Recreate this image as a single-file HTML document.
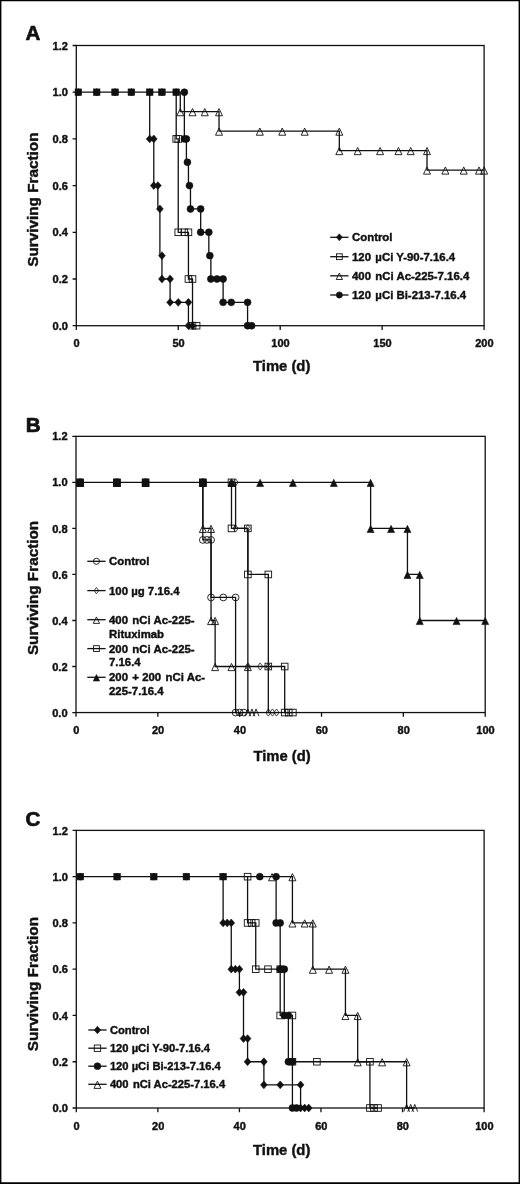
<!DOCTYPE html>
<html lang="en"><head><meta charset="utf-8"><title>Survival curves</title>
<style>
html,body{margin:0;padding:0;background:#fff;}
body{width:520px;height:1184px;overflow:hidden;font-family:"Liberation Sans", Arial, Helvetica, sans-serif;}
svg{display:block;}
</style></head><body>
<svg width="520" height="1184" viewBox="0 0 520 1184" font-family='"Liberation Sans", Arial, Helvetica, sans-serif' fill="#111">
<style>text{stroke:#111;stroke-width:.42px;stroke-linejoin:round}</style>
<rect x="0" y="0" width="520" height="1184" fill="#fff"/>
<path d="M0 0H520V1184H0Z M1.4 1.3V1182.2H518.6V1.3Z" fill="#000" fill-rule="evenodd"/>
<g id="panelA">
<text x="25.5" y="40.4" font-size="20.6" style="stroke-width:.7px" font-weight="bold">A</text>
<rect x="76.3" y="45.5" width="407.8" height="280.2" fill="none" stroke="#111" stroke-width="1.3"/>
<path d="M72.6 325.7H76.3M72.6 279H76.3M72.6 232.3H76.3M72.6 185.6H76.3M72.6 138.9H76.3M72.6 92.2H76.3M72.6 45.5H76.3M76.3 325.7V330M178.25 325.7V330M280.2 325.7V330M382.15 325.7V330M484.1 325.7V330" fill="none" stroke="#111" stroke-width="1.3"/>
<g font-size="11.1" font-weight="bold" text-anchor="end">
<text x="67.9" y="329.8">0.0</text>
<text x="67.9" y="283.1">0.2</text>
<text x="67.9" y="236.4">0.4</text>
<text x="67.9" y="189.7">0.6</text>
<text x="67.9" y="143">0.8</text>
<text x="67.9" y="96.3">1.0</text>
<text x="67.9" y="49.6">1.2</text>
</g>
<g font-size="11" font-weight="bold" text-anchor="middle">
<text x="76.6" y="347.2">0</text>
<text x="178.55" y="347.2">50</text>
<text x="280.5" y="347.2">100</text>
<text x="382.45" y="347.2">150</text>
<text x="484.4" y="347.2">200</text>
</g>
<text x="281.7" y="371" font-size="14.8" font-weight="bold" text-anchor="middle">Time (d)</text>
<text transform="translate(37.8 199.6) rotate(-90)" font-size="15.3" font-weight="bold" text-anchor="middle">Surviving Fraction</text>
<path d="M180.29 92.2H180.29V111.66H219.03V131.12H339.33V150.57H427.01V170.03H484.1V170.03" fill="none" stroke="#111" stroke-width="1.3"/>
<g><polygon points="180.29,108.56 183.79,115.76 176.79,115.76" fill="none" stroke="#111" stroke-width="0.9"/><polygon points="192.52,108.56 196.02,115.76 189.02,115.76" fill="none" stroke="#111" stroke-width="0.9"/><polygon points="204.76,108.56 208.26,115.76 201.26,115.76" fill="none" stroke="#111" stroke-width="0.9"/><polygon points="219.03,108.56 222.53,115.76 215.53,115.76" fill="none" stroke="#111" stroke-width="0.9"/><polygon points="219.03,128.02 222.53,135.22 215.53,135.22" fill="none" stroke="#111" stroke-width="0.9"/><polygon points="259.81,128.02 263.31,135.22 256.31,135.22" fill="none" stroke="#111" stroke-width="0.9"/><polygon points="282.24,128.02 285.74,135.22 278.74,135.22" fill="none" stroke="#111" stroke-width="0.9"/><polygon points="304.67,128.02 308.17,135.22 301.17,135.22" fill="none" stroke="#111" stroke-width="0.9"/><polygon points="339.33,128.02 342.83,135.22 335.83,135.22" fill="none" stroke="#111" stroke-width="0.9"/><polygon points="339.33,147.47 342.83,154.67 335.83,154.67" fill="none" stroke="#111" stroke-width="0.9"/><polygon points="357.68,147.47 361.18,154.67 354.18,154.67" fill="none" stroke="#111" stroke-width="0.9"/><polygon points="380.11,147.47 383.61,154.67 376.61,154.67" fill="none" stroke="#111" stroke-width="0.9"/><polygon points="398.46,147.47 401.96,154.67 394.96,154.67" fill="none" stroke="#111" stroke-width="0.9"/><polygon points="410.7,147.47 414.2,154.67 407.2,154.67" fill="none" stroke="#111" stroke-width="0.9"/><polygon points="427.01,147.47 430.51,154.67 423.51,154.67" fill="none" stroke="#111" stroke-width="0.9"/><polygon points="427.01,166.93 430.51,174.13 423.51,174.13" fill="none" stroke="#111" stroke-width="0.9"/><polygon points="445.36,166.93 448.86,174.13 441.86,174.13" fill="none" stroke="#111" stroke-width="0.9"/><polygon points="463.71,166.93 467.21,174.13 460.21,174.13" fill="none" stroke="#111" stroke-width="0.9"/><polygon points="479,166.93 482.5,174.13 475.5,174.13" fill="none" stroke="#111" stroke-width="0.9"/><polygon points="484.1,166.93 487.6,174.13 480.6,174.13" fill="none" stroke="#111" stroke-width="0.9"/></g>
<path d="M176.21 92.2H176.21V138.9H178.25V232.3H188.44V279H192.52V325.7H196.6V325.7" fill="none" stroke="#111" stroke-width="1.3"/>
<g><rect x="172.91" y="135.6" width="6.6" height="6.6" fill="none" stroke="#111" stroke-width="0.9"/><rect x="174.95" y="135.6" width="6.6" height="6.6" fill="none" stroke="#111" stroke-width="0.9"/><rect x="174.95" y="229" width="6.6" height="6.6" fill="none" stroke="#111" stroke-width="0.9"/><rect x="181.07" y="229" width="6.6" height="6.6" fill="none" stroke="#111" stroke-width="0.9"/><rect x="185.14" y="229" width="6.6" height="6.6" fill="none" stroke="#111" stroke-width="0.9"/><rect x="185.14" y="275.7" width="6.6" height="6.6" fill="none" stroke="#111" stroke-width="0.9"/><rect x="189.22" y="275.7" width="6.6" height="6.6" fill="none" stroke="#111" stroke-width="0.9"/><rect x="189.22" y="322.4" width="6.6" height="6.6" fill="none" stroke="#111" stroke-width="0.9"/><rect x="193.3" y="322.4" width="6.6" height="6.6" fill="none" stroke="#111" stroke-width="0.9"/></g>
<path d="M149.7 92.2H149.7V138.9H153.78V185.6H157.86V208.95H159.9V255.65H161.94V279H170.09V302.35H188.44V325.7H192.52V325.7" fill="none" stroke="#111" stroke-width="1.3"/>
<g><polygon points="149.7,135 153.1,138.9 149.7,142.8 146.3,138.9" fill="#111" stroke="#111" stroke-width="0.6"/><polygon points="153.78,135 157.18,138.9 153.78,142.8 150.38,138.9" fill="#111" stroke="#111" stroke-width="0.6"/><polygon points="153.78,181.7 157.18,185.6 153.78,189.5 150.38,185.6" fill="#111" stroke="#111" stroke-width="0.6"/><polygon points="157.86,181.7 161.26,185.6 157.86,189.5 154.46,185.6" fill="#111" stroke="#111" stroke-width="0.6"/><polygon points="159.9,205.05 163.3,208.95 159.9,212.85 156.5,208.95" fill="#111" stroke="#111" stroke-width="0.6"/><polygon points="161.94,251.75 165.34,255.65 161.94,259.55 158.54,255.65" fill="#111" stroke="#111" stroke-width="0.6"/><polygon points="161.94,275.1 165.34,279 161.94,282.9 158.54,279" fill="#111" stroke="#111" stroke-width="0.6"/><polygon points="170.09,275.1 173.49,279 170.09,282.9 166.69,279" fill="#111" stroke="#111" stroke-width="0.6"/><polygon points="170.09,298.45 173.49,302.35 170.09,306.25 166.69,302.35" fill="#111" stroke="#111" stroke-width="0.6"/><polygon points="178.25,298.45 181.65,302.35 178.25,306.25 174.85,302.35" fill="#111" stroke="#111" stroke-width="0.6"/><polygon points="188.44,298.45 191.84,302.35 188.44,306.25 185.04,302.35" fill="#111" stroke="#111" stroke-width="0.6"/><polygon points="188.44,321.8 191.84,325.7 188.44,329.6 185.04,325.7" fill="#111" stroke="#111" stroke-width="0.6"/><polygon points="192.52,321.8 195.92,325.7 192.52,329.6 189.12,325.7" fill="#111" stroke="#111" stroke-width="0.6"/></g>
<path d="M78.34 92.2H184.37V138.9H186.41V162.25H188.44V185.6H190.48V208.95H200.68V232.3H208.83V255.65H210.87V279H223.11V302.35H247.58V325.7H251.65V325.7" fill="none" stroke="#111" stroke-width="1.3"/>
<g><circle cx="184.37" cy="92.2" r="3.45" fill="#111" stroke="#111" stroke-width="0.6"/><circle cx="184.37" cy="138.9" r="3.45" fill="#111" stroke="#111" stroke-width="0.6"/><circle cx="186.41" cy="138.9" r="3.45" fill="#111" stroke="#111" stroke-width="0.6"/><circle cx="187.43" cy="162.25" r="3.45" fill="#111" stroke="#111" stroke-width="0.6"/><circle cx="189.46" cy="185.6" r="3.45" fill="#111" stroke="#111" stroke-width="0.6"/><circle cx="190.48" cy="208.95" r="3.45" fill="#111" stroke="#111" stroke-width="0.6"/><circle cx="200.68" cy="208.95" r="3.45" fill="#111" stroke="#111" stroke-width="0.6"/><circle cx="200.68" cy="232.3" r="3.45" fill="#111" stroke="#111" stroke-width="0.6"/><circle cx="208.83" cy="232.3" r="3.45" fill="#111" stroke="#111" stroke-width="0.6"/><circle cx="209.85" cy="255.65" r="3.45" fill="#111" stroke="#111" stroke-width="0.6"/><circle cx="210.87" cy="279" r="3.45" fill="#111" stroke="#111" stroke-width="0.6"/><circle cx="216.99" cy="279" r="3.45" fill="#111" stroke="#111" stroke-width="0.6"/><circle cx="223.11" cy="279" r="3.45" fill="#111" stroke="#111" stroke-width="0.6"/><circle cx="223.11" cy="302.35" r="3.45" fill="#111" stroke="#111" stroke-width="0.6"/><circle cx="231.26" cy="302.35" r="3.45" fill="#111" stroke="#111" stroke-width="0.6"/><circle cx="247.58" cy="302.35" r="3.45" fill="#111" stroke="#111" stroke-width="0.6"/><circle cx="247.58" cy="325.7" r="3.45" fill="#111" stroke="#111" stroke-width="0.6"/><circle cx="251.65" cy="325.7" r="3.45" fill="#111" stroke="#111" stroke-width="0.6"/></g>
<g><rect x="75.06" y="88.92" width="6.55" height="6.55" fill="#111" stroke="#111" stroke-width="0.6"/><polygon points="78.34,88.49 81.57,92.2 78.34,95.9 75.11,92.2" fill="#111" stroke="#111" stroke-width="0.6"/><rect x="93.41" y="88.92" width="6.55" height="6.55" fill="#111" stroke="#111" stroke-width="0.6"/><polygon points="96.69,88.49 99.92,92.2 96.69,95.9 93.46,92.2" fill="#111" stroke="#111" stroke-width="0.6"/><rect x="111.76" y="88.92" width="6.55" height="6.55" fill="#111" stroke="#111" stroke-width="0.6"/><polygon points="115.04,88.49 118.27,92.2 115.04,95.9 111.81,92.2" fill="#111" stroke="#111" stroke-width="0.6"/><rect x="128.08" y="88.92" width="6.55" height="6.55" fill="#111" stroke="#111" stroke-width="0.6"/><polygon points="131.35,88.49 134.58,92.2 131.35,95.9 128.12,92.2" fill="#111" stroke="#111" stroke-width="0.6"/><rect x="146.43" y="88.92" width="6.55" height="6.55" fill="#111" stroke="#111" stroke-width="0.6"/><polygon points="149.7,88.49 152.93,92.2 149.7,95.9 146.47,92.2" fill="#111" stroke="#111" stroke-width="0.6"/><rect x="158.66" y="88.92" width="6.55" height="6.55" fill="#111" stroke="#111" stroke-width="0.6"/><polygon points="161.94,88.49 165.17,92.2 161.94,95.9 158.71,92.2" fill="#111" stroke="#111" stroke-width="0.6"/><rect x="172.93" y="88.92" width="6.55" height="6.55" fill="#111" stroke="#111" stroke-width="0.6"/><polygon points="176.21,88.49 179.44,92.2 176.21,95.9 172.98,92.2" fill="#111" stroke="#111" stroke-width="0.6"/></g>
<path d="M330.2 237.3H348.5" stroke="#111" stroke-width="1.3"/>
<polygon points="339.35,233.87 342.34,237.3 339.35,240.73 336.36,237.3" fill="#111" stroke="#111" stroke-width="0.6"/>
<text x="352" y="241.3" font-size="11.4" font-weight="bold">Control</text>
<path d="M330.2 256.7H348.5" stroke="#111" stroke-width="1.3"/>
<rect x="336.45" y="253.8" width="5.81" height="5.81" fill="none" stroke="#111" stroke-width="0.9"/>
<text x="352" y="260.7" font-size="11.4" font-weight="bold">120 <tspan dx="1.2">µCi Y-90-7.16.4</tspan></text>
<path d="M330.2 275.8H348.5" stroke="#111" stroke-width="1.3"/>
<polygon points="339.35,273.01 342.5,279.49 336.2,279.49" fill="none" stroke="#111" stroke-width="0.9"/>
<text x="352" y="279.8" font-size="11.4" font-weight="bold">400 <tspan dx="1.2">nCi Ac-225-7.16.4</tspan></text>
<path d="M330.2 295H348.5" stroke="#111" stroke-width="1.3"/>
<circle cx="339.35" cy="295" r="3.11" fill="#111" stroke="#111" stroke-width="0.6"/>
<text x="352" y="299" font-size="11.4" font-weight="bold">120 <tspan dx="1.2">µCi Bi-213-7.16.4</tspan></text>
</g>
<g id="panelB">
<text x="25.8" y="432.3" font-size="20.6" style="stroke-width:.7px" font-weight="bold">B</text>
<rect x="76" y="436.35" width="409.2" height="276.2" fill="none" stroke="#111" stroke-width="1.3"/>
<path d="M72.3 712.55H76M72.3 666.52H76M72.3 620.48H76M72.3 574.45H76M72.3 528.42H76M72.3 482.38H76M72.3 436.35H76M76 712.55V716.85M157.84 712.55V716.85M239.68 712.55V716.85M321.52 712.55V716.85M403.36 712.55V716.85M485.2 712.55V716.85" fill="none" stroke="#111" stroke-width="1.3"/>
<g font-size="11.1" font-weight="bold" text-anchor="end">
<text x="67.6" y="716.65">0.0</text>
<text x="67.6" y="670.62">0.2</text>
<text x="67.6" y="624.58">0.4</text>
<text x="67.6" y="578.55">0.6</text>
<text x="67.6" y="532.52">0.8</text>
<text x="67.6" y="486.48">1.0</text>
<text x="67.6" y="440.45">1.2</text>
</g>
<g font-size="11" font-weight="bold" text-anchor="middle">
<text x="76.3" y="734.2">0</text>
<text x="158.14" y="734.2">20</text>
<text x="239.98" y="734.2">40</text>
<text x="321.82" y="734.2">60</text>
<text x="403.66" y="734.2">80</text>
<text x="485.5" y="734.2">100</text>
</g>
<text x="282.1" y="761.2" font-size="14.8" font-weight="bold" text-anchor="middle">Time (d)</text>
<text transform="translate(37.6 587.95) rotate(-90)" font-size="15.3" font-weight="bold" text-anchor="middle">Surviving Fraction</text>
<path d="M80.09 482.38H370.62V528.42H407.45V574.45H419.73V620.48H485.2V620.48" fill="none" stroke="#111" stroke-width="1.3"/>
<g><polygon points="80.09,479.28 83.59,486.48 76.59,486.48" fill="#111" stroke="#111" stroke-width="0.6"/><polygon points="116.92,479.28 120.42,486.48 113.42,486.48" fill="#111" stroke="#111" stroke-width="0.6"/><polygon points="145.56,479.28 149.06,486.48 142.06,486.48" fill="#111" stroke="#111" stroke-width="0.6"/><polygon points="202.85,479.28 206.35,486.48 199.35,486.48" fill="#111" stroke="#111" stroke-width="0.6"/><polygon points="231.5,479.28 235,486.48 228,486.48" fill="#111" stroke="#111" stroke-width="0.6"/><polygon points="260.14,479.28 263.64,486.48 256.64,486.48" fill="#111" stroke="#111" stroke-width="0.6"/><polygon points="292.88,479.28 296.38,486.48 289.38,486.48" fill="#111" stroke="#111" stroke-width="0.6"/><polygon points="333.8,479.28 337.3,486.48 330.3,486.48" fill="#111" stroke="#111" stroke-width="0.6"/><polygon points="370.62,479.28 374.12,486.48 367.12,486.48" fill="#111" stroke="#111" stroke-width="0.6"/><polygon points="370.62,525.32 374.12,532.52 367.12,532.52" fill="#111" stroke="#111" stroke-width="0.6"/><polygon points="391.08,525.32 394.58,532.52 387.58,532.52" fill="#111" stroke="#111" stroke-width="0.6"/><polygon points="407.45,525.32 410.95,532.52 403.95,532.52" fill="#111" stroke="#111" stroke-width="0.6"/><polygon points="407.45,571.35 410.95,578.55 403.95,578.55" fill="#111" stroke="#111" stroke-width="0.6"/><polygon points="419.73,571.35 423.23,578.55 416.23,578.55" fill="#111" stroke="#111" stroke-width="0.6"/><polygon points="419.73,617.38 423.23,624.58 416.23,624.58" fill="#111" stroke="#111" stroke-width="0.6"/><polygon points="456.56,617.38 460.06,624.58 453.06,624.58" fill="#111" stroke="#111" stroke-width="0.6"/><polygon points="485.2,617.38 488.7,624.58 481.7,624.58" fill="#111" stroke="#111" stroke-width="0.6"/></g>
<path d="M202.85 482.38H202.85V539.92H211.04V597.47H235.59V712.55H243.77V712.55" fill="none" stroke="#111" stroke-width="1.3"/>
<g><circle cx="80.09" cy="482.38" r="3.4" fill="none" stroke="#111" stroke-width="0.9"/><circle cx="116.92" cy="482.38" r="3.4" fill="none" stroke="#111" stroke-width="0.9"/><circle cx="145.56" cy="482.38" r="3.4" fill="none" stroke="#111" stroke-width="0.9"/><circle cx="202.85" cy="482.38" r="3.4" fill="none" stroke="#111" stroke-width="0.9"/><circle cx="202.85" cy="539.92" r="3.4" fill="none" stroke="#111" stroke-width="0.9"/><circle cx="206.94" cy="539.92" r="3.4" fill="none" stroke="#111" stroke-width="0.9"/><circle cx="211.04" cy="539.92" r="3.4" fill="none" stroke="#111" stroke-width="0.9"/><circle cx="211.04" cy="597.47" r="3.4" fill="none" stroke="#111" stroke-width="0.9"/><circle cx="223.31" cy="597.47" r="3.4" fill="none" stroke="#111" stroke-width="0.9"/><circle cx="235.59" cy="597.47" r="3.4" fill="none" stroke="#111" stroke-width="0.9"/><circle cx="235.59" cy="712.55" r="3.4" fill="none" stroke="#111" stroke-width="0.9"/><circle cx="239.68" cy="712.55" r="3.4" fill="none" stroke="#111" stroke-width="0.9"/><circle cx="243.77" cy="712.55" r="3.4" fill="none" stroke="#111" stroke-width="0.9"/></g>
<path d="M235.59 482.38H235.59V528.42H247.86V666.52H268.32V712.55H276.51V712.55" fill="none" stroke="#111" stroke-width="1.3"/>
<g><polygon points="80.09,478.78 82.69,482.38 80.09,485.98 77.49,482.38" fill="none" stroke="#111" stroke-width="0.75"/><polygon points="116.92,478.78 119.52,482.38 116.92,485.98 114.32,482.38" fill="none" stroke="#111" stroke-width="0.75"/><polygon points="145.56,478.78 148.16,482.38 145.56,485.98 142.96,482.38" fill="none" stroke="#111" stroke-width="0.75"/><polygon points="202.85,478.78 205.45,482.38 202.85,485.98 200.25,482.38" fill="none" stroke="#111" stroke-width="0.75"/><polygon points="231.5,478.78 234.1,482.38 231.5,485.98 228.9,482.38" fill="none" stroke="#111" stroke-width="0.75"/><polygon points="235.59,478.78 238.19,482.38 235.59,485.98 232.99,482.38" fill="none" stroke="#111" stroke-width="0.75"/><polygon points="235.59,524.82 238.19,528.42 235.59,532.02 232.99,528.42" fill="none" stroke="#111" stroke-width="0.75"/><polygon points="247.86,524.82 250.46,528.42 247.86,532.02 245.26,528.42" fill="none" stroke="#111" stroke-width="0.75"/><polygon points="247.86,662.92 250.46,666.52 247.86,670.12 245.26,666.52" fill="none" stroke="#111" stroke-width="0.75"/><polygon points="260.14,662.92 262.74,666.52 260.14,670.12 257.54,666.52" fill="none" stroke="#111" stroke-width="0.75"/><polygon points="268.32,662.92 270.92,666.52 268.32,670.12 265.72,666.52" fill="none" stroke="#111" stroke-width="0.75"/><polygon points="268.32,708.95 270.92,712.55 268.32,716.15 265.72,712.55" fill="none" stroke="#111" stroke-width="0.75"/><polygon points="272.42,708.95 275.02,712.55 272.42,716.15 269.82,712.55" fill="none" stroke="#111" stroke-width="0.75"/><polygon points="276.51,708.95 279.11,712.55 276.51,716.15 273.91,712.55" fill="none" stroke="#111" stroke-width="0.75"/></g>
<path d="M202.85 482.38H202.85V528.42H211.04V620.48H215.13V666.52H247.86V712.55H256.05V712.55" fill="none" stroke="#111" stroke-width="1.3"/>
<g><polygon points="80.09,479.28 83.59,486.48 76.59,486.48" fill="none" stroke="#111" stroke-width="0.9"/><polygon points="116.92,479.28 120.42,486.48 113.42,486.48" fill="none" stroke="#111" stroke-width="0.9"/><polygon points="145.56,479.28 149.06,486.48 142.06,486.48" fill="none" stroke="#111" stroke-width="0.9"/><polygon points="202.85,479.28 206.35,486.48 199.35,486.48" fill="none" stroke="#111" stroke-width="0.9"/><polygon points="202.85,525.32 206.35,532.52 199.35,532.52" fill="none" stroke="#111" stroke-width="0.9"/><polygon points="211.04,525.32 214.54,532.52 207.54,532.52" fill="none" stroke="#111" stroke-width="0.9"/><polygon points="211.04,617.38 214.54,624.58 207.54,624.58" fill="none" stroke="#111" stroke-width="0.9"/><polygon points="215.13,617.38 218.63,624.58 211.63,624.58" fill="none" stroke="#111" stroke-width="0.9"/><polygon points="215.13,663.42 218.63,670.62 211.63,670.62" fill="none" stroke="#111" stroke-width="0.9"/><polygon points="231.5,663.42 235,670.62 228,670.62" fill="none" stroke="#111" stroke-width="0.9"/><polygon points="247.86,663.42 251.36,670.62 244.36,670.62" fill="none" stroke="#111" stroke-width="0.9"/><polyline points="244.96,716.25 247.86,708.95 250.76,716.25" fill="none" stroke="#111" stroke-width="0.9"/><polyline points="249.06,716.25 251.96,708.95 254.86,716.25" fill="none" stroke="#111" stroke-width="0.9"/><polyline points="253.15,716.25 256.05,708.95 258.95,716.25" fill="none" stroke="#111" stroke-width="0.9"/></g>
<path d="M231.5 482.38H231.5V528.42H247.86V574.45H268.32V666.52H284.69V712.55H292.88V712.55" fill="none" stroke="#111" stroke-width="1.3"/>
<g><rect x="76.79" y="479.08" width="6.6" height="6.6" fill="none" stroke="#111" stroke-width="0.9"/><rect x="113.62" y="479.08" width="6.6" height="6.6" fill="none" stroke="#111" stroke-width="0.9"/><rect x="142.26" y="479.08" width="6.6" height="6.6" fill="none" stroke="#111" stroke-width="0.9"/><rect x="199.55" y="479.08" width="6.6" height="6.6" fill="none" stroke="#111" stroke-width="0.9"/><rect x="228.2" y="479.08" width="6.6" height="6.6" fill="none" stroke="#111" stroke-width="0.9"/><rect x="228.2" y="525.12" width="6.6" height="6.6" fill="none" stroke="#111" stroke-width="0.9"/><rect x="244.56" y="525.12" width="6.6" height="6.6" fill="none" stroke="#111" stroke-width="0.9"/><rect x="244.56" y="571.15" width="6.6" height="6.6" fill="none" stroke="#111" stroke-width="0.9"/><rect x="265.02" y="571.15" width="6.6" height="6.6" fill="none" stroke="#111" stroke-width="0.9"/><rect x="265.02" y="663.22" width="6.6" height="6.6" fill="none" stroke="#111" stroke-width="0.9"/><rect x="281.39" y="663.22" width="6.6" height="6.6" fill="none" stroke="#111" stroke-width="0.9"/><rect x="281.39" y="709.25" width="6.6" height="6.6" fill="none" stroke="#111" stroke-width="0.9"/><rect x="285.48" y="709.25" width="6.6" height="6.6" fill="none" stroke="#111" stroke-width="0.9"/><rect x="289.58" y="709.25" width="6.6" height="6.6" fill="none" stroke="#111" stroke-width="0.9"/></g>
<g><rect x="76.75" y="479.04" width="6.69" height="6.69" fill="#111" stroke="#111" stroke-width="0.6"/><rect x="113.57" y="479.04" width="6.69" height="6.69" fill="#111" stroke="#111" stroke-width="0.6"/><rect x="142.22" y="479.04" width="6.69" height="6.69" fill="#111" stroke="#111" stroke-width="0.6"/><rect x="199.51" y="479.04" width="6.69" height="6.69" fill="#111" stroke="#111" stroke-width="0.6"/></g>
<polygon points="231.5,479.28 235,486.48 228,486.48" fill="#111" stroke="#111" stroke-width="0.6"/>
<path d="M87.3 561.3H105.6" stroke="#111" stroke-width="1.3"/>
<circle cx="96.45" cy="561.3" r="3.06" fill="none" stroke="#111" stroke-width="0.9"/>
<text x="109" y="565.3" font-size="11.4" font-weight="bold">Control</text>
<path d="M87.3 590.6H105.6" stroke="#111" stroke-width="1.3"/>
<polygon points="96.45,587.43 98.74,590.6 96.45,593.77 94.16,590.6" fill="none" stroke="#111" stroke-width="0.75"/>
<text x="109" y="594.6" font-size="11.4" font-weight="bold">100 µg 7.16.4</text>
<path d="M87.3 619.7H105.6" stroke="#111" stroke-width="1.3"/>
<polygon points="96.45,616.91 99.6,623.39 93.3,623.39" fill="none" stroke="#111" stroke-width="0.9"/>
<text x="109" y="623.7" font-size="11.4" font-weight="bold">400 <tspan dx="1.2">nCi Ac-225-</tspan></text>
<text x="109" y="637.5" font-size="11.4" font-weight="bold">Rituximab</text>
<path d="M87.3 648.6H105.6" stroke="#111" stroke-width="1.3"/>
<rect x="93.55" y="645.7" width="5.81" height="5.81" fill="none" stroke="#111" stroke-width="0.9"/>
<text x="109" y="652.6" font-size="11.4" font-weight="bold">200 <tspan dx="1.2">nCi Ac-225-</tspan></text>
<text x="109" y="666.4" font-size="11.4" font-weight="bold">7.16.4</text>
<path d="M87.3 677.3H105.6" stroke="#111" stroke-width="1.3"/>
<polygon points="96.45,674.51 99.6,680.99 93.3,680.99" fill="#111" stroke="#111" stroke-width="0.6"/>
<text x="109" y="681.3" font-size="11.4" font-weight="bold">200 <tspan dx="1.2">+ 200 </tspan><tspan dx="1.2">nCi Ac-</tspan></text>
<text x="109" y="695.1" font-size="11.4" font-weight="bold">225-7.16.4</text>
</g>
<g id="panelC">
<text x="25.4" y="825.8" font-size="20.6" style="stroke-width:.7px" font-weight="bold">C</text>
<rect x="76.3" y="830.4" width="407.8" height="277.6" fill="none" stroke="#111" stroke-width="1.3"/>
<path d="M72.6 1108H76.3M72.6 1061.73H76.3M72.6 1015.47H76.3M72.6 969.2H76.3M72.6 922.93H76.3M72.6 876.67H76.3M72.6 830.4H76.3M76.3 1108V1112.3M157.86 1108V1112.3M239.42 1108V1112.3M320.98 1108V1112.3M402.54 1108V1112.3M484.1 1108V1112.3" fill="none" stroke="#111" stroke-width="1.3"/>
<g font-size="11.1" font-weight="bold" text-anchor="end">
<text x="67.9" y="1112.1">0.0</text>
<text x="67.9" y="1065.83">0.2</text>
<text x="67.9" y="1019.57">0.4</text>
<text x="67.9" y="973.3">0.6</text>
<text x="67.9" y="927.03">0.8</text>
<text x="67.9" y="880.77">1.0</text>
<text x="67.9" y="834.5">1.2</text>
</g>
<g font-size="11" font-weight="bold" text-anchor="middle">
<text x="76.6" y="1129.5">0</text>
<text x="158.16" y="1129.5">20</text>
<text x="239.72" y="1129.5">40</text>
<text x="321.28" y="1129.5">60</text>
<text x="402.84" y="1129.5">80</text>
<text x="484.4" y="1129.5">100</text>
</g>
<text x="281.7" y="1155" font-size="14.8" font-weight="bold" text-anchor="middle">Time (d)</text>
<text transform="translate(37.6 984.1) rotate(-90)" font-size="15.3" font-weight="bold" text-anchor="middle">Surviving Fraction</text>
<path d="M80.38 876.67H292.43V922.93H312.82V969.2H345.45V1015.47H357.68V1061.73H406.62V1108H414.77V1108" fill="none" stroke="#111" stroke-width="1.3"/>
<g><polygon points="272.04,873.57 275.54,880.77 268.54,880.77" fill="none" stroke="#111" stroke-width="0.9"/><polygon points="292.43,873.57 295.93,880.77 288.93,880.77" fill="none" stroke="#111" stroke-width="0.9"/><polygon points="292.43,919.83 295.93,927.03 288.93,927.03" fill="none" stroke="#111" stroke-width="0.9"/><polygon points="304.67,919.83 308.17,927.03 301.17,927.03" fill="none" stroke="#111" stroke-width="0.9"/><polygon points="312.82,919.83 316.32,927.03 309.32,927.03" fill="none" stroke="#111" stroke-width="0.9"/><polygon points="312.82,966.1 316.32,973.3 309.32,973.3" fill="none" stroke="#111" stroke-width="0.9"/><polygon points="329.14,966.1 332.64,973.3 325.64,973.3" fill="none" stroke="#111" stroke-width="0.9"/><polygon points="345.45,966.1 348.95,973.3 341.95,973.3" fill="none" stroke="#111" stroke-width="0.9"/><polygon points="345.45,1012.37 348.95,1019.57 341.95,1019.57" fill="none" stroke="#111" stroke-width="0.9"/><polygon points="357.68,1012.37 361.18,1019.57 354.18,1019.57" fill="none" stroke="#111" stroke-width="0.9"/><polygon points="357.68,1058.63 361.18,1065.83 354.18,1065.83" fill="none" stroke="#111" stroke-width="0.9"/><polygon points="382.15,1058.63 385.65,1065.83 378.65,1065.83" fill="none" stroke="#111" stroke-width="0.9"/><polygon points="406.62,1058.63 410.12,1065.83 403.12,1065.83" fill="none" stroke="#111" stroke-width="0.9"/><polyline points="403.72,1111.7 406.62,1104.4 409.52,1111.7" fill="none" stroke="#111" stroke-width="0.9"/><polyline points="407.8,1111.7 410.7,1104.4 413.6,1111.7" fill="none" stroke="#111" stroke-width="0.9"/><polyline points="411.87,1111.7 414.77,1104.4 417.67,1111.7" fill="none" stroke="#111" stroke-width="0.9"/></g>
<path d="M247.58 876.67H247.58V922.93H255.73V969.2H280.2V1015.47H292.43V1061.73H369.92V1108H378.07V1108" fill="none" stroke="#111" stroke-width="1.3"/>
<g><rect x="244.28" y="873.37" width="6.6" height="6.6" fill="none" stroke="#111" stroke-width="0.9"/><rect x="244.28" y="919.63" width="6.6" height="6.6" fill="none" stroke="#111" stroke-width="0.9"/><rect x="248.35" y="919.63" width="6.6" height="6.6" fill="none" stroke="#111" stroke-width="0.9"/><rect x="252.43" y="919.63" width="6.6" height="6.6" fill="none" stroke="#111" stroke-width="0.9"/><rect x="252.43" y="965.9" width="6.6" height="6.6" fill="none" stroke="#111" stroke-width="0.9"/><rect x="264.67" y="965.9" width="6.6" height="6.6" fill="none" stroke="#111" stroke-width="0.9"/><rect x="276.9" y="965.9" width="6.6" height="6.6" fill="none" stroke="#111" stroke-width="0.9"/><rect x="276.9" y="1012.17" width="6.6" height="6.6" fill="none" stroke="#111" stroke-width="0.9"/><rect x="289.13" y="1012.17" width="6.6" height="6.6" fill="none" stroke="#111" stroke-width="0.9"/><rect x="289.13" y="1058.43" width="6.6" height="6.6" fill="none" stroke="#111" stroke-width="0.9"/><rect x="313.6" y="1058.43" width="6.6" height="6.6" fill="none" stroke="#111" stroke-width="0.9"/><rect x="366.62" y="1058.43" width="6.6" height="6.6" fill="none" stroke="#111" stroke-width="0.9"/><rect x="366.62" y="1104.7" width="6.6" height="6.6" fill="none" stroke="#111" stroke-width="0.9"/><rect x="370.69" y="1104.7" width="6.6" height="6.6" fill="none" stroke="#111" stroke-width="0.9"/><rect x="374.77" y="1104.7" width="6.6" height="6.6" fill="none" stroke="#111" stroke-width="0.9"/></g>
<path d="M223.11 876.67H223.11V922.93H231.26V969.2H239.42V992.33H243.5V1038.6H247.58V1061.73H263.89V1084.87H300.59V1108H308.75V1108" fill="none" stroke="#111" stroke-width="1.3"/>
<g><polygon points="223.11,919.03 226.51,922.93 223.11,926.83 219.71,922.93" fill="#111" stroke="#111" stroke-width="0.6"/><polygon points="227.19,919.03 230.59,922.93 227.19,926.83 223.79,922.93" fill="#111" stroke="#111" stroke-width="0.6"/><polygon points="231.26,919.03 234.66,922.93 231.26,926.83 227.86,922.93" fill="#111" stroke="#111" stroke-width="0.6"/><polygon points="231.26,965.3 234.66,969.2 231.26,973.1 227.86,969.2" fill="#111" stroke="#111" stroke-width="0.6"/><polygon points="235.34,965.3 238.74,969.2 235.34,973.1 231.94,969.2" fill="#111" stroke="#111" stroke-width="0.6"/><polygon points="239.42,965.3 242.82,969.2 239.42,973.1 236.02,969.2" fill="#111" stroke="#111" stroke-width="0.6"/><polygon points="239.42,988.43 242.82,992.33 239.42,996.23 236.02,992.33" fill="#111" stroke="#111" stroke-width="0.6"/><polygon points="243.5,988.43 246.9,992.33 243.5,996.23 240.1,992.33" fill="#111" stroke="#111" stroke-width="0.6"/><polygon points="243.5,1034.7 246.9,1038.6 243.5,1042.5 240.1,1038.6" fill="#111" stroke="#111" stroke-width="0.6"/><polygon points="247.58,1034.7 250.98,1038.6 247.58,1042.5 244.18,1038.6" fill="#111" stroke="#111" stroke-width="0.6"/><polygon points="247.58,1057.83 250.98,1061.73 247.58,1065.63 244.18,1061.73" fill="#111" stroke="#111" stroke-width="0.6"/><polygon points="263.89,1057.83 267.29,1061.73 263.89,1065.63 260.49,1061.73" fill="#111" stroke="#111" stroke-width="0.6"/><polygon points="263.89,1080.97 267.29,1084.87 263.89,1088.77 260.49,1084.87" fill="#111" stroke="#111" stroke-width="0.6"/><polygon points="280.2,1080.97 283.6,1084.87 280.2,1088.77 276.8,1084.87" fill="#111" stroke="#111" stroke-width="0.6"/><polygon points="300.59,1080.97 303.99,1084.87 300.59,1088.77 297.19,1084.87" fill="#111" stroke="#111" stroke-width="0.6"/><polygon points="300.59,1104.1 303.99,1108 300.59,1111.9 297.19,1108" fill="#111" stroke="#111" stroke-width="0.6"/><polygon points="304.67,1104.1 308.07,1108 304.67,1111.9 301.27,1108" fill="#111" stroke="#111" stroke-width="0.6"/><polygon points="308.75,1104.1 312.15,1108 308.75,1111.9 305.35,1108" fill="#111" stroke="#111" stroke-width="0.6"/></g>
<path d="M276.12 876.67H276.12V922.93H280.2V969.2H284.28V1015.47H288.36V1061.73H292.43V1108H296.51V1108" fill="none" stroke="#111" stroke-width="1.3"/>
<g><circle cx="259.81" cy="876.67" r="3.45" fill="#111" stroke="#111" stroke-width="0.6"/><circle cx="276.12" cy="876.67" r="3.45" fill="#111" stroke="#111" stroke-width="0.6"/><circle cx="276.12" cy="922.93" r="3.45" fill="#111" stroke="#111" stroke-width="0.6"/><circle cx="280.2" cy="922.93" r="3.45" fill="#111" stroke="#111" stroke-width="0.6"/><circle cx="280.2" cy="969.2" r="3.45" fill="#111" stroke="#111" stroke-width="0.6"/><circle cx="284.28" cy="969.2" r="3.45" fill="#111" stroke="#111" stroke-width="0.6"/><circle cx="284.28" cy="1015.47" r="3.45" fill="#111" stroke="#111" stroke-width="0.6"/><circle cx="288.36" cy="1015.47" r="3.45" fill="#111" stroke="#111" stroke-width="0.6"/><circle cx="288.36" cy="1061.73" r="3.45" fill="#111" stroke="#111" stroke-width="0.6"/><circle cx="292.43" cy="1061.73" r="3.45" fill="#111" stroke="#111" stroke-width="0.6"/><circle cx="292.43" cy="1108" r="3.45" fill="#111" stroke="#111" stroke-width="0.6"/><circle cx="296.51" cy="1108" r="3.45" fill="#111" stroke="#111" stroke-width="0.6"/></g>
<g><rect x="77.1" y="873.39" width="6.55" height="6.55" fill="#111" stroke="#111" stroke-width="0.6"/><polygon points="80.38,872.96 83.61,876.67 80.38,880.37 77.15,876.67" fill="#111" stroke="#111" stroke-width="0.6"/><rect x="113.8" y="873.39" width="6.55" height="6.55" fill="#111" stroke="#111" stroke-width="0.6"/><polygon points="117.08,872.96 120.31,876.67 117.08,880.37 113.85,876.67" fill="#111" stroke="#111" stroke-width="0.6"/><rect x="150.5" y="873.39" width="6.55" height="6.55" fill="#111" stroke="#111" stroke-width="0.6"/><polygon points="153.78,872.96 157.01,876.67 153.78,880.37 150.55,876.67" fill="#111" stroke="#111" stroke-width="0.6"/><rect x="183.13" y="873.39" width="6.55" height="6.55" fill="#111" stroke="#111" stroke-width="0.6"/><polygon points="186.41,872.96 189.64,876.67 186.41,880.37 183.18,876.67" fill="#111" stroke="#111" stroke-width="0.6"/><rect x="219.83" y="873.39" width="6.55" height="6.55" fill="#111" stroke="#111" stroke-width="0.6"/><polygon points="223.11,872.96 226.34,876.67 223.11,880.37 219.88,876.67" fill="#111" stroke="#111" stroke-width="0.6"/></g>
<path d="M88.3 1030H106.6" stroke="#111" stroke-width="1.3"/>
<polygon points="97.45,1026.22 100.74,1030 97.45,1033.78 94.16,1030" fill="#111" stroke="#111" stroke-width="0.6"/>
<text x="109.9" y="1034" font-size="11.2" font-weight="bold">Control</text>
<path d="M88.3 1048.2H106.6" stroke="#111" stroke-width="1.3"/>
<rect x="94.26" y="1045.01" width="6.39" height="6.39" fill="none" stroke="#111" stroke-width="0.9"/>
<text x="109.9" y="1052.2" font-size="11.2" font-weight="bold">120 µCi Y-90-7.16.4</text>
<path d="M88.3 1066.2H106.6" stroke="#111" stroke-width="1.3"/>
<circle cx="97.45" cy="1066.2" r="3.42" fill="#111" stroke="#111" stroke-width="0.6"/>
<text x="109.9" y="1070.2" font-size="11.2" font-weight="bold">120 µCi Bi-213-7.16.4</text>
<path d="M88.3 1084.3H106.6" stroke="#111" stroke-width="1.3"/>
<polygon points="97.45,1081.23 100.91,1088.36 93.98,1088.36" fill="none" stroke="#111" stroke-width="0.9"/>
<text x="109.9" y="1088.3" font-size="11.2" font-weight="bold">400 <tspan dx="1.2">nCi Ac-225-7.16.4</tspan></text>
</g>
</svg>
</body></html>
